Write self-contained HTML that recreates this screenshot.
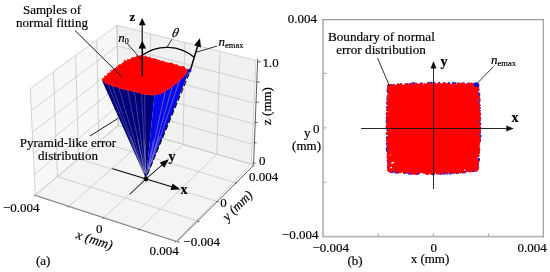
<!DOCTYPE html>
<html><head><meta charset="utf-8"><title>Figure</title>
<style>html,body{margin:0;padding:0;background:#fff}svg{display:block}</style>
</head><body>
<svg width="550" height="272" viewBox="0 0 550 272">
<rect width="550" height="272" fill="#fff"/>
<polygon points="35.34,195.02 176.36,241.07 251.27,164.19 118.24,125.52" fill="#f4f4f4" />
<polygon points="35.34,195.02 118.24,125.52 117.09,25.31 30.22,88.7" fill="#f8f8f8" />
<polygon points="118.24,125.52 251.27,164.19 256.02,60.52 117.09,25.31" fill="#f1f1f1" />
<g stroke="#c4c4c4" stroke-width="0.75" fill="none">
<path d="M35.34 195.02L118.24 125.52"/>
<path d="M35.34 195.02L176.36 241.07"/>
<path d="M35.34 195.02L30.22 88.7"/>
<path d="M118.24 125.52L117.09 25.31"/>
<path d="M69.22 206.08L150.31 134.84"/>
<path d="M57.42 176.51L196.38 220.53"/>
<path d="M57.42 176.51L53.42 71.77"/>
<path d="M150.31 134.84L150.53 33.78"/>
<path d="M103.99 217.44L183.15 144.39"/>
<path d="M78.56 158.79L215.49 200.91"/>
<path d="M78.56 158.79L75.59 55.59"/>
<path d="M183.15 144.39L184.81 42.47"/>
<path d="M139.69 229.1L216.8 154.17"/>
<path d="M98.81 141.81L233.78 182.15"/>
<path d="M98.81 141.81L96.79 40.12"/>
<path d="M216.8 154.17L219.96 51.38"/>
<path d="M176.36 241.07L251.27 164.19"/>
<path d="M118.24 125.52L251.27 164.19"/>
<path d="M118.24 125.52L117.09 25.31"/>
<path d="M251.27 164.19L256.02 60.52"/>
<path d="M35.34 195.02L118.24 125.52"/>
<path d="M118.24 125.52L251.27 164.19"/>
<path d="M34.35 174.52L118.02 106.14"/>
<path d="M118.02 106.14L252.19 144.17"/>
<path d="M33.35 153.64L117.79 86.44"/>
<path d="M117.79 86.44L253.12 123.81"/>
<path d="M32.32 132.39L117.56 66.4"/>
<path d="M117.56 66.4L254.07 103.08"/>
<path d="M31.28 110.75L117.33 46.03"/>
<path d="M117.33 46.03L255.04 81.99"/>
<path d="M30.22 88.7L117.09 25.31"/>
<path d="M117.09 25.31L256.02 60.52"/>
</g>
<line x1="35.34" y1="195.52" x2="176.36" y2="241.57" stroke="#666" stroke-width="0.85" />
<line x1="176.96" y1="241.47" x2="253.57" y2="165.39" stroke="#4a4a4a" stroke-width="0.9" />
<line x1="253.57" y1="164.39" x2="257.72" y2="58.52" stroke="#4a4a4a" stroke-width="0.9" />
<g stroke="#444" stroke-width="0.8">
<path d="M35.34 195.02l-1.6 1.3"/>
<path d="M177.16 241.67l2.4 0.6"/>
<path d="M69.22 206.08l-1.6 1.3"/>
<path d="M197.18 221.13l2.4 0.6"/>
<path d="M103.99 217.44l-1.6 1.3"/>
<path d="M216.29 201.51l2.4 0.6"/>
<path d="M139.69 229.1l-1.6 1.3"/>
<path d="M234.58 182.75l2.4 0.6"/>
<path d="M176.36 241.07l-1.6 1.3"/>
<path d="M252.07 164.79l2.4 0.6"/>
<path d="M252.47 162.8l3.2 0.3"/>
<path d="M253.51 142.56l3.2 0.3"/>
<path d="M254.56 122.32l3.2 0.3"/>
<path d="M255.63 102.08l3.2 0.3"/>
<path d="M256.72 81.84l3.2 0.3"/>
<path d="M257.82 61.6l3.2 0.3"/>
</g>
<polygon points="154.5,94.8 145,94.4 142.7,93.5 133.2,91.5 123.6,89 114.1,86.2 106.5,83.3 101.7,80.1 146,178.6" fill="#00007a" />
<polygon points="189.5,70.5 188,71.6 186,73.8 181.3,78.6 173.6,85.2 166,90.4 160.3,93.8 154.5,94.8 146,178.6" fill="#0808ee" />
<g stroke="#7e7eae" stroke-width="0.6" stroke-opacity="0.8">
<path d="M107.32 82.61L143.29 171.95"/>
<path d="M111.46 84.19L143.58 172.06"/>
<path d="M118.3 86.44L144.06 172.22"/>
<path d="M127.37 88.98L144.7 172.4"/>
<path d="M134.36 90.74L145.19 172.52"/>
<path d="M141.41 92.23L145.68 172.62"/>
<path d="M144.57 93.23L145.9 172.69"/>
</g>
<g stroke="#8484b8" stroke-width="0.7" stroke-opacity="0.95">
<path d="M180.18 78.56L148.39 171.67"/>
<path d="M172.87 84.7L147.88 172.1"/>
<path d="M165.69 89.59L147.38 172.44"/>
</g>
<g stroke="#c4c4de" stroke-width="0.5" stroke-opacity="0.7">
<path d="M130.46 136.57L144.27 173.93"/>
<path d="M137.62 138.72L145.07 174.17"/>
<path d="M143.93 140.18L145.77 174.33"/>
<path d="M159.16 135.94L147.46 173.86"/>
<path d="M153.52 139.79L146.84 174.29"/>
</g>
<line x1="189.2" y1="73.5" x2="146.9" y2="175.6" stroke="#000" stroke-width="1.1" stroke-dasharray="5.5 2.5"/>
<polygon points="102.49,79.98 107.69,75.01 114.67,69.16 123.99,62.62 133.42,57.65 140,56.48 145.01,57.07 154.34,59.41 163.77,62.09 173.09,64.48 182.52,67.3 187.24,69.55 188.71,70.62 187.24,71.69 185.27,73.84 180.66,78.52 173.09,84.95 165.63,90.02 160.03,93.34 154.34,94.31 145.01,93.92 142.75,93.05 133.42,91.09 123.99,88.66 114.67,85.93 107.2,83.1" fill="#ff0000" stroke="#ff0000" stroke-width="1" stroke-linejoin="round"/>
<g fill="#ff0000">
<circle cx="103.62" cy="78.64" r="0.73"/>
<circle cx="105.06" cy="76.52" r="0.9"/>
<circle cx="102.58" cy="79.02" r="0.74"/>
<circle cx="105.22" cy="77.19" r="0.79"/>
<circle cx="106.47" cy="77" r="0.86"/>
<circle cx="113.77" cy="69.94" r="0.82"/>
<circle cx="108.09" cy="73.82" r="1.03"/>
<circle cx="109.08" cy="74.2" r="0.85"/>
<circle cx="110.81" cy="71.01" r="0.78"/>
<circle cx="112.32" cy="70.69" r="0.93"/>
<circle cx="110.53" cy="72.89" r="0.98"/>
<circle cx="117.06" cy="67.61" r="1.05"/>
<circle cx="121.13" cy="65.26" r="0.75"/>
<circle cx="118.98" cy="65.8" r="0.9"/>
<circle cx="115.3" cy="69.38" r="0.93"/>
<circle cx="122.53" cy="63.79" r="0.94"/>
<circle cx="120" cy="65.98" r="1.08"/>
<circle cx="119.35" cy="65.27" r="0.98"/>
<circle cx="121.49" cy="65.51" r="0.81"/>
<circle cx="127.9" cy="59.85" r="0.88"/>
<circle cx="124.97" cy="61" r="1.01"/>
<circle cx="124.81" cy="61.79" r="1.05"/>
<circle cx="124.67" cy="62.31" r="1.05"/>
<circle cx="132.3" cy="58.15" r="0.87"/>
<circle cx="127.99" cy="61.66" r="0.76"/>
<circle cx="125.23" cy="61.27" r="0.89"/>
<circle cx="136.92" cy="56.07" r="0.87"/>
<circle cx="135.96" cy="58.04" r="0.98"/>
<circle cx="137" cy="57.37" r="0.72"/>
<circle cx="139.79" cy="57.27" r="1.02"/>
<circle cx="141.8" cy="56" r="0.95"/>
<circle cx="139.62" cy="55.99" r="0.76"/>
<circle cx="140.99" cy="55.78" r="0.76"/>
<circle cx="145.74" cy="56.45" r="1.05"/>
<circle cx="150.18" cy="58.06" r="0.84"/>
<circle cx="147.8" cy="58.55" r="1.1"/>
<circle cx="149.33" cy="57.41" r="0.74"/>
<circle cx="147.83" cy="58.46" r="0.76"/>
<circle cx="145.95" cy="57.17" r="0.76"/>
<circle cx="158.7" cy="60.91" r="1.09"/>
<circle cx="162.79" cy="61.29" r="0.85"/>
<circle cx="156.35" cy="59.91" r="1.01"/>
<circle cx="157" cy="60.85" r="1.09"/>
<circle cx="162.87" cy="62.27" r="1"/>
<circle cx="156.5" cy="59.76" r="0.71"/>
<circle cx="154.25" cy="59.05" r="0.98"/>
<circle cx="172.6" cy="65.16" r="1.1"/>
<circle cx="172.46" cy="63.87" r="0.79"/>
<circle cx="165.13" cy="62.78" r="1.06"/>
<circle cx="171.57" cy="64.37" r="1.02"/>
<circle cx="164.81" cy="63.03" r="1.01"/>
<circle cx="170.73" cy="63.3" r="1.02"/>
<circle cx="176.71" cy="66.27" r="0.86"/>
<circle cx="177.59" cy="66.02" r="0.77"/>
<circle cx="173.73" cy="65.57" r="1.02"/>
<circle cx="174.99" cy="65.76" r="0.96"/>
<circle cx="176.48" cy="64.8" r="0.71"/>
<circle cx="182.49" cy="67.27" r="1.07"/>
<circle cx="177.78" cy="66.29" r="0.78"/>
<circle cx="183.38" cy="67.4" r="0.93"/>
<circle cx="183.61" cy="67.22" r="1.06"/>
<circle cx="184.12" cy="68.25" r="1.06"/>
<circle cx="188.52" cy="70" r="0.91"/>
<circle cx="187.17" cy="71.07" r="0.77"/>
<circle cx="187.71" cy="71.11" r="0.89"/>
<circle cx="185.9" cy="72.93" r="0.91"/>
<circle cx="183.16" cy="75.73" r="0.92"/>
<circle cx="183.77" cy="75.49" r="0.9"/>
<circle cx="183.09" cy="77.21" r="0.88"/>
<circle cx="182.45" cy="76.73" r="0.98"/>
<circle cx="177.29" cy="81.39" r="1.08"/>
<circle cx="175.97" cy="83.81" r="0.8"/>
<circle cx="177.13" cy="82.73" r="0.75"/>
<circle cx="179.64" cy="78.53" r="0.8"/>
<circle cx="180.37" cy="79.5" r="1.06"/>
<circle cx="179.83" cy="79.8" r="0.76"/>
<circle cx="174.73" cy="83.69" r="1.08"/>
<circle cx="170.1" cy="87.85" r="1.03"/>
<circle cx="171.78" cy="85.8" r="0.84"/>
<circle cx="171.34" cy="86.34" r="0.71"/>
<circle cx="168.86" cy="86.89" r="0.83"/>
<circle cx="168.46" cy="87.33" r="1.09"/>
<circle cx="167.97" cy="88.24" r="0.81"/>
<circle cx="165.86" cy="89.74" r="0.75"/>
<circle cx="163.93" cy="92" r="0.8"/>
<circle cx="165.47" cy="90.64" r="0.98"/>
<circle cx="164.42" cy="90.66" r="0.87"/>
<circle cx="160.32" cy="93.65" r="1.02"/>
<circle cx="160.13" cy="92.64" r="1.05"/>
<circle cx="157.19" cy="93.88" r="1.07"/>
<circle cx="157.91" cy="93.65" r="0.8"/>
<circle cx="152.78" cy="93.46" r="0.78"/>
<circle cx="151.12" cy="94.66" r="0.82"/>
<circle cx="149.16" cy="93.84" r="0.71"/>
<circle cx="151.23" cy="94.63" r="0.92"/>
<circle cx="152.53" cy="95.02" r="0.74"/>
<circle cx="146.59" cy="93.98" r="1.03"/>
<circle cx="144.13" cy="93.92" r="1.09"/>
<circle cx="140.08" cy="92.75" r="0.95"/>
<circle cx="138.73" cy="91.45" r="0.75"/>
<circle cx="142.48" cy="92.47" r="0.77"/>
<circle cx="142.51" cy="93.55" r="0.97"/>
<circle cx="139.71" cy="92.12" r="0.88"/>
<circle cx="141.19" cy="92.31" r="1.08"/>
<circle cx="124.33" cy="88.26" r="1.09"/>
<circle cx="130.27" cy="89.44" r="0.85"/>
<circle cx="128.95" cy="89.4" r="0.9"/>
<circle cx="133" cy="90.34" r="0.86"/>
<circle cx="132.26" cy="90.64" r="0.79"/>
<circle cx="127.95" cy="90.12" r="0.96"/>
<circle cx="117.92" cy="86.5" r="0.83"/>
<circle cx="114.25" cy="86.37" r="0.96"/>
<circle cx="124.12" cy="89.24" r="0.95"/>
<circle cx="117.65" cy="86" r="0.91"/>
<circle cx="119.82" cy="87.83" r="1.03"/>
<circle cx="119.17" cy="87.39" r="0.98"/>
<circle cx="112.2" cy="84.62" r="0.84"/>
<circle cx="114.42" cy="85.74" r="0.95"/>
<circle cx="110.28" cy="84.14" r="0.7"/>
<circle cx="109.11" cy="83.68" r="0.91"/>
<circle cx="109.05" cy="84.49" r="0.8"/>
<circle cx="106.48" cy="83.28" r="0.78"/>
<circle cx="104.48" cy="80.78" r="0.85"/>
<circle cx="105.24" cy="82.09" r="0.95"/>
<circle cx="103.5" cy="80.46" r="0.8"/>
</g>
<line x1="142.3" y1="76.4" x2="142.3" y2="46" stroke="#000" stroke-width="1.5" />
<line x1="142.2" y1="50" x2="142.2" y2="24.3" stroke="#000" stroke-width="1.1" />
<polygon points="142.2,18.1 145.6,25.3 138.8,25.3" fill="#000" />
<polygon points="142.3,40.7 146.1,48.5 138.5,48.5" fill="#000" />
<line x1="190.5" y1="69.8" x2="197.84" y2="45.38" stroke="#000" stroke-width="1.5" />
<polygon points="200,38.2 201,47.38 194.11,45.3" fill="#000" />
<circle cx="189.4" cy="70.7" r="2" fill="#1010d0"/>
<path d="M142.2 55.3A42.2 42.2 0 0 1 194.1 57.3" fill="none" stroke="#000" stroke-width="1.2"/>
<line x1="75" y1="30.5" x2="121.5" y2="76.4" stroke="#000" stroke-width="0.9" />
<line x1="127.6" y1="43.8" x2="141.4" y2="59.8" stroke="#000" stroke-width="0.8" />
<line x1="171.8" y1="39.4" x2="167" y2="47.3" stroke="#000" stroke-width="0.8" />
<line x1="217" y1="46.1" x2="196.5" y2="52.1" stroke="#000" stroke-width="0.8" />
<line x1="90" y1="136" x2="118" y2="118.4" stroke="#000" stroke-width="0.9" />
<line x1="112.4" y1="168.6" x2="146" y2="178.9" stroke="#000" stroke-width="1.0" />
<line x1="146" y1="178.9" x2="172.55" y2="186.97" stroke="#000" stroke-width="1.0" />
<polygon points="180.2,189.3 170.6,189.93 172.58,183.43" fill="#000" />
<line x1="129.8" y1="194.3" x2="146" y2="178.9" stroke="#000" stroke-width="1.0" />
<line x1="146" y1="178.9" x2="162.73" y2="164.52" stroke="#000" stroke-width="1.0" />
<polygon points="168.8,159.3 164.19,167.75 159.76,162.59" fill="#000" />
<circle cx="145.9" cy="179" r="2.4" fill="#000"/>
<line x1="323.1" y1="19" x2="323.1" y2="237.6" stroke="#b8b8b8" stroke-width="1.9" />
<line x1="322.15" y1="236.7" x2="543.9" y2="236.7" stroke="#b8b8b8" stroke-width="1.8" />
<line x1="322.15" y1="19.6" x2="543.9" y2="19.6" stroke="#9c9c9c" stroke-width="1.2" />
<line x1="543.3" y1="19" x2="543.3" y2="237.6" stroke="#9c9c9c" stroke-width="1.2" />
<g stroke="#888" stroke-width="0.8">
<path d="M378.09 235.9v-2.4"/>
<path d="M324 73.49h2.4"/>
<path d="M433.33 235.9v-2.4"/>
<path d="M324 127.92h2.4"/>
<path d="M488.56 235.9v-2.4"/>
<path d="M324 182.36h2.4"/>
</g>
<g fill="#2626d6">
<circle cx="454.96" cy="83.34" r="1.15"/>
<circle cx="439.17" cy="82.78" r="1.15"/>
<circle cx="393.59" cy="84.81" r="1.15"/>
<circle cx="448.37" cy="83.69" r="1.15"/>
<circle cx="448.87" cy="83.21" r="1.15"/>
<circle cx="434.49" cy="83.39" r="1.15"/>
<circle cx="429.95" cy="83" r="1.15"/>
<circle cx="468.64" cy="83.67" r="1.15"/>
<circle cx="475.61" cy="84.73" r="1.15"/>
<circle cx="389.93" cy="85.27" r="1.15"/>
<circle cx="461.42" cy="84.25" r="1.15"/>
<circle cx="428.44" cy="83.22" r="1.15"/>
<circle cx="407.35" cy="84.74" r="1.15"/>
<circle cx="407.19" cy="84.33" r="1.15"/>
<circle cx="401.02" cy="84.6" r="1.15"/>
<circle cx="474.04" cy="83.86" r="1.15"/>
<circle cx="461.78" cy="83.75" r="1.15"/>
<circle cx="467.62" cy="84.16" r="1.15"/>
<circle cx="409.23" cy="84.61" r="1.15"/>
<circle cx="431.74" cy="82.85" r="1.15"/>
<circle cx="388.73" cy="85.4" r="1.15"/>
<circle cx="428.56" cy="83.26" r="1.15"/>
<circle cx="400.79" cy="84.42" r="1.15"/>
<circle cx="416.69" cy="84.25" r="1.15"/>
<circle cx="388.81" cy="85.64" r="1.15"/>
<circle cx="463.76" cy="83.39" r="1.15"/>
<circle cx="471.16" cy="84.31" r="1.15"/>
<circle cx="469.28" cy="83.8" r="1.15"/>
<circle cx="421.52" cy="83.54" r="1.15"/>
<circle cx="477.79" cy="84.5" r="1.15"/>
<circle cx="420.5" cy="83.62" r="1.15"/>
<circle cx="412.64" cy="83.45" r="1.15"/>
<circle cx="397.72" cy="85.13" r="1.15"/>
<circle cx="414.04" cy="84.46" r="1.15"/>
<circle cx="410.44" cy="83.81" r="1.15"/>
<circle cx="433.99" cy="83.04" r="1.15"/>
<circle cx="421.8" cy="84.25" r="1.15"/>
<circle cx="467.3" cy="84.27" r="1.15"/>
<circle cx="444.62" cy="83.94" r="1.15"/>
<circle cx="472.59" cy="84.21" r="1.15"/>
<circle cx="452.96" cy="82.99" r="1.15"/>
<circle cx="453.9" cy="83.49" r="1.15"/>
<circle cx="455.62" cy="83.75" r="1.15"/>
<circle cx="413.63" cy="83.4" r="1.15"/>
<circle cx="471.7" cy="83.74" r="1.15"/>
<circle cx="430.49" cy="83.28" r="1.15"/>
<circle cx="479.31" cy="110.64" r="1.15"/>
<circle cx="477.92" cy="168.42" r="1.15"/>
<circle cx="479.81" cy="141.39" r="1.15"/>
<circle cx="479.93" cy="132.93" r="1.15"/>
<circle cx="479.44" cy="98.91" r="1.15"/>
<circle cx="478.8" cy="102.95" r="1.15"/>
<circle cx="480.22" cy="127.75" r="1.15"/>
<circle cx="477.73" cy="161.99" r="1.15"/>
<circle cx="480.32" cy="123.65" r="1.15"/>
<circle cx="479.66" cy="101.08" r="1.15"/>
<circle cx="480.22" cy="114.21" r="1.15"/>
<circle cx="479.68" cy="105.28" r="1.15"/>
<circle cx="479.27" cy="133.9" r="1.15"/>
<circle cx="479.29" cy="149.3" r="1.15"/>
<circle cx="479.8" cy="120.59" r="1.15"/>
<circle cx="479.99" cy="117.34" r="1.15"/>
<circle cx="478.66" cy="89.72" r="1.15"/>
<circle cx="478.12" cy="167.82" r="1.15"/>
<circle cx="479.68" cy="128.29" r="1.15"/>
<circle cx="478.85" cy="158.97" r="1.15"/>
<circle cx="479.82" cy="108.07" r="1.15"/>
<circle cx="479.88" cy="119.35" r="1.15"/>
<circle cx="477.53" cy="166.06" r="1.15"/>
<circle cx="478.99" cy="159.95" r="1.15"/>
<circle cx="478.02" cy="87.46" r="1.15"/>
<circle cx="478.35" cy="161.52" r="1.15"/>
<circle cx="480.38" cy="135.57" r="1.15"/>
<circle cx="479.26" cy="118.76" r="1.15"/>
<circle cx="478.39" cy="155.4" r="1.15"/>
<circle cx="477.97" cy="168.09" r="1.15"/>
<circle cx="479.1" cy="93.77" r="1.15"/>
<circle cx="479.6" cy="129.91" r="1.15"/>
<circle cx="477.75" cy="165.13" r="1.15"/>
<circle cx="479.26" cy="140.5" r="1.15"/>
<circle cx="479.79" cy="124.34" r="1.15"/>
<circle cx="478" cy="88.16" r="1.15"/>
<circle cx="478.88" cy="105.09" r="1.15"/>
<circle cx="479.84" cy="140.5" r="1.15"/>
<circle cx="479.12" cy="95.51" r="1.15"/>
<circle cx="479.37" cy="139.59" r="1.15"/>
<circle cx="479.21" cy="93.98" r="1.15"/>
<circle cx="479.72" cy="130.09" r="1.15"/>
<circle cx="480.15" cy="118.28" r="1.15"/>
<circle cx="480.34" cy="136.76" r="1.15"/>
<circle cx="479.66" cy="110.84" r="1.15"/>
<circle cx="477.69" cy="166.64" r="1.15"/>
<circle cx="398.89" cy="172.34" r="1.15"/>
<circle cx="456.76" cy="172.9" r="1.15"/>
<circle cx="392.29" cy="171.4" r="1.15"/>
<circle cx="450.36" cy="173.68" r="1.15"/>
<circle cx="433.15" cy="173.52" r="1.15"/>
<circle cx="440.17" cy="173.9" r="1.15"/>
<circle cx="418.29" cy="173.04" r="1.15"/>
<circle cx="457.6" cy="173.08" r="1.15"/>
<circle cx="447.44" cy="173.36" r="1.15"/>
<circle cx="416.63" cy="173.89" r="1.15"/>
<circle cx="406.76" cy="172.69" r="1.15"/>
<circle cx="432.56" cy="174.14" r="1.15"/>
<circle cx="391.12" cy="171.68" r="1.15"/>
<circle cx="404.38" cy="173.1" r="1.15"/>
<circle cx="457.62" cy="172.21" r="1.15"/>
<circle cx="451.03" cy="172.48" r="1.15"/>
<circle cx="433.38" cy="174.15" r="1.15"/>
<circle cx="457.67" cy="172.62" r="1.15"/>
<circle cx="418.48" cy="173.02" r="1.15"/>
<circle cx="464.55" cy="171.96" r="1.15"/>
<circle cx="458.24" cy="171.91" r="1.15"/>
<circle cx="465.21" cy="172.28" r="1.15"/>
<circle cx="472.23" cy="171.03" r="1.15"/>
<circle cx="397.95" cy="171.8" r="1.15"/>
<circle cx="412.58" cy="172.72" r="1.15"/>
<circle cx="394.53" cy="172.05" r="1.15"/>
<circle cx="460.68" cy="171.73" r="1.15"/>
<circle cx="410.84" cy="173.79" r="1.15"/>
<circle cx="418.33" cy="173.73" r="1.15"/>
<circle cx="444.28" cy="173.64" r="1.15"/>
<circle cx="462.79" cy="172.6" r="1.15"/>
<circle cx="452.67" cy="173.1" r="1.15"/>
<circle cx="392.23" cy="172.01" r="1.15"/>
<circle cx="391.52" cy="171.84" r="1.15"/>
<circle cx="445.65" cy="172.95" r="1.15"/>
<circle cx="404.34" cy="172.86" r="1.15"/>
<circle cx="473.13" cy="170.82" r="1.15"/>
<circle cx="444.2" cy="172.89" r="1.15"/>
<circle cx="460.41" cy="172.43" r="1.15"/>
<circle cx="397.36" cy="172.68" r="1.15"/>
<circle cx="440.87" cy="173.16" r="1.15"/>
<circle cx="409.02" cy="173.66" r="1.15"/>
<circle cx="474.78" cy="171.03" r="1.15"/>
<circle cx="395.49" cy="172.23" r="1.15"/>
<circle cx="411.24" cy="172.77" r="1.15"/>
<circle cx="447.41" cy="173.55" r="1.15"/>
<circle cx="388.29" cy="89.1" r="1.15"/>
<circle cx="387.62" cy="148.37" r="1.15"/>
<circle cx="386.93" cy="143.89" r="1.15"/>
<circle cx="388.84" cy="170.62" r="1.15"/>
<circle cx="388.1" cy="92.6" r="1.15"/>
<circle cx="387.63" cy="89.82" r="1.15"/>
<circle cx="387.43" cy="150.94" r="1.15"/>
<circle cx="388.62" cy="89.46" r="1.15"/>
<circle cx="386.74" cy="137.83" r="1.15"/>
<circle cx="386.99" cy="134.02" r="1.15"/>
<circle cx="387.7" cy="91.24" r="1.15"/>
<circle cx="387.74" cy="102.3" r="1.15"/>
<circle cx="387.85" cy="100.62" r="1.15"/>
<circle cx="386.78" cy="118.76" r="1.15"/>
<circle cx="387.02" cy="143.59" r="1.15"/>
<circle cx="386.92" cy="103.62" r="1.15"/>
<circle cx="387.88" cy="153.92" r="1.15"/>
<circle cx="386.9" cy="150.01" r="1.15"/>
<circle cx="388.46" cy="168.19" r="1.15"/>
<circle cx="387.77" cy="142.8" r="1.15"/>
<circle cx="388.32" cy="95.65" r="1.15"/>
<circle cx="386.86" cy="148.47" r="1.15"/>
<circle cx="388.06" cy="162.82" r="1.15"/>
<circle cx="387.13" cy="110.02" r="1.15"/>
<circle cx="387.36" cy="150.95" r="1.15"/>
<circle cx="387.24" cy="117.74" r="1.15"/>
<circle cx="387.7" cy="106.98" r="1.15"/>
<circle cx="386.62" cy="113.77" r="1.15"/>
<circle cx="387.39" cy="98.75" r="1.15"/>
<circle cx="386.8" cy="122.24" r="1.15"/>
<circle cx="386.91" cy="107.48" r="1.15"/>
<circle cx="387.11" cy="149.9" r="1.15"/>
<circle cx="388.2" cy="157.61" r="1.15"/>
<circle cx="386.75" cy="121.25" r="1.15"/>
<circle cx="387.67" cy="136.81" r="1.15"/>
<circle cx="386.6" cy="127.37" r="1.15"/>
<circle cx="387.67" cy="101.75" r="1.15"/>
<circle cx="387.99" cy="85.84" r="1.15"/>
<circle cx="387.37" cy="130.15" r="1.15"/>
<circle cx="388.07" cy="99.21" r="1.15"/>
<circle cx="388.17" cy="167.85" r="1.15"/>
<circle cx="387.62" cy="161.08" r="1.15"/>
<circle cx="388.34" cy="87.78" r="1.15"/>
<circle cx="387.9" cy="91.22" r="1.15"/>
<circle cx="387.67" cy="96.71" r="1.15"/>
<circle cx="387.69" cy="148.52" r="1.15"/>
</g>
<path d="M389.76 86.71Q432.81 83.7 476.65 85.71Q480.25 128.68 476.14 168.9Q432.95 175.1 389.95 169.88Q387.1 127.71 389.76 86.71Z" fill="#ff0000" stroke="#ff0000" stroke-width="1.5" stroke-linejoin="round"/>
<g fill="#ff0000">
<circle cx="473.07" cy="84.19" r="1.17"/>
<circle cx="443.7" cy="83.7" r="1.07"/>
<circle cx="401.12" cy="84.79" r="1.01"/>
<circle cx="441.65" cy="84.76" r="0.99"/>
<circle cx="389.83" cy="85.75" r="1.21"/>
<circle cx="405.15" cy="84.81" r="0.99"/>
<circle cx="458.96" cy="84.64" r="0.93"/>
<circle cx="397.88" cy="85.37" r="1.15"/>
<circle cx="445.5" cy="83.41" r="0.97"/>
<circle cx="450.27" cy="84.21" r="1.03"/>
<circle cx="416.55" cy="85.85" r="1.04"/>
<circle cx="438.88" cy="84.05" r="1.09"/>
<circle cx="464.41" cy="85.68" r="1.06"/>
<circle cx="406.76" cy="85.64" r="0.99"/>
<circle cx="390.38" cy="86.78" r="1.09"/>
<circle cx="461.38" cy="84.39" r="1.3"/>
<circle cx="429.51" cy="83.65" r="0.91"/>
<circle cx="437.49" cy="84.76" r="1.31"/>
<circle cx="397.16" cy="85.86" r="1.07"/>
<circle cx="433.4" cy="83.56" r="1.03"/>
<circle cx="434.81" cy="85.49" r="0.95"/>
<circle cx="432.18" cy="85.22" r="1.34"/>
<circle cx="405.98" cy="84.36" r="1.32"/>
<circle cx="475.11" cy="85" r="0.92"/>
<circle cx="470.85" cy="84.64" r="1.31"/>
<circle cx="443.38" cy="85.18" r="0.97"/>
<circle cx="458.53" cy="83.92" r="1.08"/>
<circle cx="463.08" cy="85.31" r="0.98"/>
<circle cx="408.17" cy="84.86" r="1.13"/>
<circle cx="422.58" cy="83.71" r="1.01"/>
<circle cx="452.38" cy="85.35" r="0.92"/>
<circle cx="438.39" cy="85.04" r="0.92"/>
<circle cx="463.38" cy="83.83" r="1.17"/>
<circle cx="437.36" cy="84.73" r="1.04"/>
<circle cx="426.03" cy="84.76" r="1.09"/>
<circle cx="447" cy="84.27" r="1.1"/>
<circle cx="391.41" cy="86.19" r="1.12"/>
<circle cx="410.11" cy="85.6" r="1.25"/>
<circle cx="429.28" cy="83.7" r="1.11"/>
<circle cx="397.96" cy="84.82" r="1.09"/>
<circle cx="397.1" cy="85.5" r="1.13"/>
<circle cx="392.96" cy="86.13" r="0.94"/>
<circle cx="453.25" cy="85.08" r="1.13"/>
<circle cx="393.92" cy="85.82" r="1.07"/>
<circle cx="473.49" cy="84.27" r="1.29"/>
<circle cx="476.5" cy="85.51" r="1.27"/>
<circle cx="406.79" cy="86.19" r="1.12"/>
<circle cx="472.67" cy="85.72" r="0.97"/>
<circle cx="457.87" cy="85.45" r="0.93"/>
<circle cx="420.12" cy="85.3" r="0.97"/>
<circle cx="468.38" cy="84.33" r="1.27"/>
<circle cx="401.75" cy="85.38" r="1.31"/>
<circle cx="407.13" cy="84.6" r="1.13"/>
<circle cx="416.75" cy="83.68" r="0.98"/>
<circle cx="403.92" cy="86.19" r="1.21"/>
<circle cx="468.45" cy="84.12" r="1.25"/>
<circle cx="399.3" cy="85.56" r="1.19"/>
<circle cx="420.97" cy="85.57" r="1.15"/>
<circle cx="439.87" cy="85.34" r="0.95"/>
<circle cx="476.4" cy="85.32" r="1.08"/>
<circle cx="459.54" cy="84.04" r="1.35"/>
<circle cx="439.84" cy="84.05" r="1.24"/>
<circle cx="427.85" cy="83.72" r="1.23"/>
<circle cx="393.93" cy="86.42" r="1.01"/>
<circle cx="444.91" cy="85.56" r="1.16"/>
<circle cx="447.54" cy="83.95" r="0.9"/>
<circle cx="391.5" cy="85.29" r="1.18"/>
<circle cx="427.06" cy="84.57" r="1.3"/>
<circle cx="400.33" cy="84.88" r="1.19"/>
<circle cx="390.22" cy="85.11" r="1.06"/>
<circle cx="398.26" cy="85.27" r="1"/>
<circle cx="440.3" cy="84.61" r="0.99"/>
<circle cx="443.9" cy="84.33" r="0.96"/>
<circle cx="472.02" cy="84.41" r="0.97"/>
<circle cx="397.78" cy="85.86" r="1.29"/>
<circle cx="457.98" cy="84.3" r="1.02"/>
<circle cx="390.41" cy="86.3" r="1.15"/>
<circle cx="419.99" cy="85.04" r="1.1"/>
<circle cx="471.26" cy="85.33" r="1.01"/>
<circle cx="469.37" cy="83.91" r="1.14"/>
<circle cx="424.64" cy="83.94" r="0.93"/>
<circle cx="458.17" cy="83.45" r="1.15"/>
<circle cx="472.58" cy="84.24" r="0.99"/>
<circle cx="442.49" cy="84.41" r="1.19"/>
<circle cx="461.07" cy="83.88" r="1.04"/>
<circle cx="415.07" cy="83.77" r="1.3"/>
<circle cx="457.66" cy="84.98" r="0.9"/>
<circle cx="463.04" cy="85.14" r="1.11"/>
<circle cx="454.33" cy="84.35" r="1"/>
<circle cx="397.97" cy="85.03" r="0.92"/>
<circle cx="418.78" cy="85.32" r="1.21"/>
<circle cx="463.16" cy="85.07" r="1.02"/>
<circle cx="437.74" cy="84.25" r="1.25"/>
<circle cx="435.07" cy="83.84" r="1.19"/>
<circle cx="474.63" cy="84.48" r="1.3"/>
<circle cx="390.05" cy="85.61" r="1.01"/>
<circle cx="453.98" cy="85.46" r="1.24"/>
<circle cx="418.14" cy="85.65" r="1.05"/>
<circle cx="410.62" cy="85.9" r="1.18"/>
<circle cx="449.81" cy="84.8" r="1.34"/>
<circle cx="430.38" cy="85.33" r="1.21"/>
<circle cx="464.64" cy="84.54" r="1.23"/>
<circle cx="439.24" cy="83.92" r="1"/>
<circle cx="444.02" cy="83.36" r="1.31"/>
<circle cx="401.14" cy="84.41" r="0.95"/>
<circle cx="471.17" cy="84.57" r="0.96"/>
<circle cx="390.86" cy="85.13" r="1.21"/>
<circle cx="444.63" cy="84.87" r="1.23"/>
<circle cx="395.07" cy="85.92" r="1.06"/>
<circle cx="460.57" cy="85.25" r="1.3"/>
<circle cx="395.55" cy="86.43" r="1.31"/>
<circle cx="472.95" cy="84.19" r="0.99"/>
<circle cx="398.25" cy="84.61" r="1.28"/>
<circle cx="460.33" cy="84.85" r="1.27"/>
<circle cx="444.69" cy="83.88" r="0.94"/>
<circle cx="398.15" cy="86.08" r="0.99"/>
<circle cx="417.09" cy="84.59" r="0.91"/>
<circle cx="411.44" cy="84.46" r="1.22"/>
<circle cx="421.32" cy="84.22" r="1.33"/>
<circle cx="433.32" cy="85.32" r="1.18"/>
<circle cx="477.64" cy="87.69" r="1.1"/>
<circle cx="478.52" cy="150.94" r="1.22"/>
<circle cx="479.53" cy="131.23" r="1.29"/>
<circle cx="477.21" cy="93.55" r="0.98"/>
<circle cx="477.81" cy="84.72" r="1.24"/>
<circle cx="477.85" cy="168.5" r="1.12"/>
<circle cx="478.11" cy="127.3" r="0.98"/>
<circle cx="479.23" cy="127.54" r="1.27"/>
<circle cx="477.55" cy="108.15" r="1.03"/>
<circle cx="477.97" cy="104" r="1.12"/>
<circle cx="477.67" cy="94.91" r="0.94"/>
<circle cx="477.68" cy="151.77" r="1.25"/>
<circle cx="479.02" cy="138.79" r="1.08"/>
<circle cx="477.87" cy="119.3" r="0.94"/>
<circle cx="478.52" cy="161.01" r="0.99"/>
<circle cx="477.65" cy="108.33" r="1.13"/>
<circle cx="477.87" cy="118.02" r="1.01"/>
<circle cx="478.78" cy="124.72" r="1.24"/>
<circle cx="477.94" cy="148.95" r="1.06"/>
<circle cx="479.55" cy="113.08" r="1.28"/>
<circle cx="478" cy="141.38" r="0.98"/>
<circle cx="478.18" cy="122.92" r="1.16"/>
<circle cx="478.11" cy="96.05" r="1.3"/>
<circle cx="479.19" cy="105.42" r="1.04"/>
<circle cx="477.65" cy="144.67" r="0.97"/>
<circle cx="478.7" cy="98.35" r="1.05"/>
<circle cx="479.68" cy="129.9" r="1.05"/>
<circle cx="477.29" cy="102.17" r="1.23"/>
<circle cx="476.98" cy="94.7" r="0.95"/>
<circle cx="477.63" cy="118.48" r="1.26"/>
<circle cx="478.5" cy="147.54" r="0.99"/>
<circle cx="479.6" cy="139.79" r="0.99"/>
<circle cx="479.96" cy="118.35" r="1.08"/>
<circle cx="477.67" cy="152.03" r="1.13"/>
<circle cx="478.75" cy="139.1" r="0.96"/>
<circle cx="478.96" cy="136.73" r="1.23"/>
<circle cx="477.57" cy="162.03" r="1.16"/>
<circle cx="478.46" cy="148.87" r="1"/>
<circle cx="477.51" cy="146.2" r="1.25"/>
<circle cx="477.64" cy="144.41" r="1.21"/>
<circle cx="478.75" cy="139.87" r="1.04"/>
<circle cx="479.65" cy="138.97" r="1.09"/>
<circle cx="477.67" cy="151.3" r="1.18"/>
<circle cx="478.71" cy="106.72" r="1.1"/>
<circle cx="478.91" cy="138.23" r="1.2"/>
<circle cx="477.9" cy="164.25" r="1.19"/>
<circle cx="478.41" cy="151.32" r="1.12"/>
<circle cx="477.82" cy="168.17" r="1.14"/>
<circle cx="477.6" cy="99.5" r="1.32"/>
<circle cx="479.83" cy="129.65" r="1.16"/>
<circle cx="478.28" cy="131.4" r="1.13"/>
<circle cx="477.85" cy="139.45" r="1.13"/>
<circle cx="477.73" cy="120.63" r="0.99"/>
<circle cx="478.77" cy="143.49" r="1.24"/>
<circle cx="477.02" cy="96.49" r="1.06"/>
<circle cx="478.07" cy="89.71" r="1.08"/>
<circle cx="477.5" cy="86.15" r="1.09"/>
<circle cx="478.82" cy="144.69" r="1.02"/>
<circle cx="477.91" cy="104.87" r="1.32"/>
<circle cx="479.53" cy="130.31" r="1.26"/>
<circle cx="479.53" cy="118.75" r="0.96"/>
<circle cx="477.48" cy="150.71" r="1.19"/>
<circle cx="478.7" cy="125.41" r="1"/>
<circle cx="477.32" cy="166.76" r="1.19"/>
<circle cx="477.28" cy="154.15" r="1.11"/>
<circle cx="478.54" cy="110.63" r="0.96"/>
<circle cx="478.19" cy="155.99" r="1.28"/>
<circle cx="478.87" cy="108.16" r="1.01"/>
<circle cx="479.63" cy="121.67" r="0.9"/>
<circle cx="478.9" cy="146.73" r="1.01"/>
<circle cx="478.72" cy="111.21" r="1.09"/>
<circle cx="478.26" cy="139.39" r="1.06"/>
<circle cx="476.6" cy="163.07" r="0.93"/>
<circle cx="477.05" cy="154.78" r="1.25"/>
<circle cx="477.41" cy="97.82" r="1.18"/>
<circle cx="478.26" cy="85.6" r="1.33"/>
<circle cx="479.2" cy="141.22" r="0.95"/>
<circle cx="478.66" cy="97.18" r="1.25"/>
<circle cx="479.6" cy="114.79" r="1.31"/>
<circle cx="478.83" cy="152.71" r="1.3"/>
<circle cx="478.02" cy="136.94" r="1.2"/>
<circle cx="476.95" cy="160.33" r="1.28"/>
<circle cx="477.93" cy="102.51" r="1.14"/>
<circle cx="478.45" cy="148.25" r="1.3"/>
<circle cx="479.39" cy="132.68" r="1.01"/>
<circle cx="478.11" cy="97.25" r="0.93"/>
<circle cx="479.75" cy="125.18" r="1.12"/>
<circle cx="478.75" cy="127.85" r="1.29"/>
<circle cx="476.69" cy="86.29" r="1.11"/>
<circle cx="478.38" cy="133.2" r="1.28"/>
<circle cx="479" cy="117.4" r="1.33"/>
<circle cx="477.49" cy="91.92" r="1.19"/>
<circle cx="477.25" cy="87.8" r="1.21"/>
<circle cx="477.6" cy="164.12" r="1.34"/>
<circle cx="478.88" cy="128.89" r="1.3"/>
<circle cx="477.09" cy="88.45" r="1.18"/>
<circle cx="477.88" cy="114.62" r="1.06"/>
<circle cx="478.79" cy="125.86" r="1.25"/>
<circle cx="478.54" cy="103.34" r="1.09"/>
<circle cx="477.99" cy="132.45" r="1.03"/>
<circle cx="478.12" cy="155.42" r="1.13"/>
<circle cx="478.58" cy="108.66" r="1.34"/>
<circle cx="477.9" cy="140.73" r="1.05"/>
<circle cx="479.18" cy="112.37" r="1.16"/>
<circle cx="477.97" cy="139.11" r="0.92"/>
<circle cx="477.5" cy="146.23" r="1.15"/>
<circle cx="477.97" cy="89.14" r="0.9"/>
<circle cx="477.41" cy="102.16" r="1.17"/>
<circle cx="477.9" cy="141.01" r="1.31"/>
<circle cx="478.42" cy="137.3" r="1.18"/>
<circle cx="478.25" cy="144.33" r="1.21"/>
<circle cx="478.04" cy="103.77" r="1.11"/>
<circle cx="479.12" cy="150.35" r="0.98"/>
<circle cx="477" cy="88.81" r="1.31"/>
<circle cx="478.92" cy="141.11" r="1.27"/>
<circle cx="477.98" cy="151.82" r="1.02"/>
<circle cx="478.86" cy="111.18" r="1.04"/>
<circle cx="478.5" cy="122.21" r="1.32"/>
<circle cx="477.5" cy="90.01" r="0.92"/>
<circle cx="477.36" cy="95.94" r="1.16"/>
<circle cx="396.38" cy="171.34" r="0.91"/>
<circle cx="442.78" cy="172.28" r="1.32"/>
<circle cx="390.98" cy="170.72" r="1.09"/>
<circle cx="467.55" cy="170.34" r="1"/>
<circle cx="464.11" cy="172.07" r="0.9"/>
<circle cx="416.68" cy="173.46" r="1.33"/>
<circle cx="468.4" cy="169.78" r="0.96"/>
<circle cx="474.8" cy="169.31" r="1.01"/>
<circle cx="412.33" cy="173.11" r="0.92"/>
<circle cx="409.37" cy="171.74" r="1.28"/>
<circle cx="412.56" cy="173.36" r="1.18"/>
<circle cx="414.74" cy="172.58" r="1.32"/>
<circle cx="453.94" cy="170.81" r="1.22"/>
<circle cx="476.62" cy="170.47" r="1.19"/>
<circle cx="404.78" cy="172.86" r="1.04"/>
<circle cx="412.67" cy="173.18" r="1.29"/>
<circle cx="434.22" cy="173.83" r="1.07"/>
<circle cx="426.45" cy="172.92" r="1.2"/>
<circle cx="463.58" cy="170.42" r="1.06"/>
<circle cx="420.47" cy="172.36" r="1.09"/>
<circle cx="442.79" cy="171.8" r="1.33"/>
<circle cx="408.28" cy="172.01" r="1.03"/>
<circle cx="470.62" cy="169.31" r="1.22"/>
<circle cx="404.23" cy="172.26" r="1.17"/>
<circle cx="391.89" cy="170.11" r="1.17"/>
<circle cx="449.74" cy="172.33" r="1.3"/>
<circle cx="443.63" cy="172.02" r="1.17"/>
<circle cx="398.92" cy="170.82" r="1.03"/>
<circle cx="477.04" cy="169.91" r="1.09"/>
<circle cx="425.59" cy="171.98" r="1.3"/>
<circle cx="472.46" cy="169.38" r="1.27"/>
<circle cx="401.08" cy="171.5" r="1.02"/>
<circle cx="402.82" cy="171.13" r="1.21"/>
<circle cx="396.65" cy="171.58" r="0.94"/>
<circle cx="428.41" cy="172.03" r="0.99"/>
<circle cx="411.68" cy="171.36" r="1.01"/>
<circle cx="423.78" cy="172.3" r="1.11"/>
<circle cx="458.91" cy="172.06" r="1.24"/>
<circle cx="407.53" cy="172.21" r="0.94"/>
<circle cx="406.63" cy="171.46" r="1"/>
<circle cx="426.22" cy="171.78" r="1.3"/>
<circle cx="431.09" cy="172.83" r="1.17"/>
<circle cx="460.54" cy="172.05" r="0.98"/>
<circle cx="415.36" cy="172.84" r="1.15"/>
<circle cx="441.48" cy="172.51" r="0.97"/>
<circle cx="471.97" cy="169.11" r="1.07"/>
<circle cx="467.21" cy="170.4" r="1.25"/>
<circle cx="462.89" cy="170.92" r="1.06"/>
<circle cx="431.26" cy="173.96" r="0.92"/>
<circle cx="390.83" cy="169.93" r="1.12"/>
<circle cx="427.08" cy="173.36" r="1.25"/>
<circle cx="439.29" cy="171.51" r="1.25"/>
<circle cx="405.82" cy="170.99" r="1.01"/>
<circle cx="473.94" cy="170.47" r="0.98"/>
<circle cx="470.12" cy="171.29" r="1.15"/>
<circle cx="400.61" cy="171.7" r="1.33"/>
<circle cx="396.54" cy="172.16" r="1.17"/>
<circle cx="442.12" cy="173.47" r="1.33"/>
<circle cx="454.1" cy="171.73" r="1.19"/>
<circle cx="393.45" cy="170.6" r="1.08"/>
<circle cx="437.58" cy="173.52" r="1.33"/>
<circle cx="389.57" cy="171.05" r="0.92"/>
<circle cx="454.45" cy="172.2" r="1.31"/>
<circle cx="398.23" cy="170.71" r="0.92"/>
<circle cx="408.3" cy="171.69" r="1.19"/>
<circle cx="389.83" cy="171.41" r="0.97"/>
<circle cx="411.28" cy="171.32" r="1.2"/>
<circle cx="450.45" cy="171.9" r="1.24"/>
<circle cx="467.76" cy="171" r="1.02"/>
<circle cx="465.86" cy="170.87" r="0.98"/>
<circle cx="456.23" cy="172.54" r="1.2"/>
<circle cx="475.26" cy="169.26" r="0.99"/>
<circle cx="472.84" cy="169.15" r="1"/>
<circle cx="395.73" cy="170.42" r="1.3"/>
<circle cx="464.54" cy="171.08" r="0.94"/>
<circle cx="396.14" cy="170.51" r="1.18"/>
<circle cx="437.19" cy="173.08" r="1.27"/>
<circle cx="434.94" cy="172.4" r="0.96"/>
<circle cx="457.82" cy="172.6" r="1.22"/>
<circle cx="428.26" cy="173.66" r="1.29"/>
<circle cx="453.46" cy="172.13" r="0.97"/>
<circle cx="452.61" cy="171.19" r="1.05"/>
<circle cx="462.02" cy="171.24" r="1.04"/>
<circle cx="397.22" cy="172.12" r="1.34"/>
<circle cx="471.08" cy="169.42" r="1.2"/>
<circle cx="458.23" cy="171.61" r="1.03"/>
<circle cx="454.45" cy="172.55" r="1.06"/>
<circle cx="391.01" cy="169.69" r="1.32"/>
<circle cx="468.51" cy="170.98" r="1.3"/>
<circle cx="471.31" cy="169.74" r="1.03"/>
<circle cx="390.37" cy="171.56" r="1.26"/>
<circle cx="447.13" cy="173.18" r="0.9"/>
<circle cx="404.07" cy="171.83" r="0.98"/>
<circle cx="438.51" cy="171.62" r="1"/>
<circle cx="426.67" cy="173.66" r="0.98"/>
<circle cx="409.68" cy="171.76" r="0.99"/>
<circle cx="470.45" cy="171.17" r="1.17"/>
<circle cx="433.4" cy="173.31" r="0.99"/>
<circle cx="423.32" cy="172.22" r="1.27"/>
<circle cx="425.66" cy="173.49" r="0.93"/>
<circle cx="412.63" cy="172.61" r="1.22"/>
<circle cx="471.35" cy="169.56" r="1.05"/>
<circle cx="403.7" cy="171.07" r="1.12"/>
<circle cx="474.66" cy="168.95" r="1.11"/>
<circle cx="400.2" cy="172.08" r="0.98"/>
<circle cx="403.9" cy="172.16" r="0.97"/>
<circle cx="444.16" cy="172.21" r="0.9"/>
<circle cx="431.27" cy="172.9" r="1.13"/>
<circle cx="465.8" cy="170.38" r="1.27"/>
<circle cx="400.86" cy="172.02" r="1.22"/>
<circle cx="443.19" cy="171.87" r="0.93"/>
<circle cx="401.16" cy="170.69" r="1.12"/>
<circle cx="431.84" cy="172.69" r="1.14"/>
<circle cx="474.11" cy="168.91" r="1"/>
<circle cx="461.26" cy="172.18" r="1.01"/>
<circle cx="404.73" cy="172.97" r="0.94"/>
<circle cx="415.39" cy="173.24" r="0.91"/>
<circle cx="424.38" cy="172.56" r="1.14"/>
<circle cx="414.98" cy="173.44" r="1.29"/>
<circle cx="413.64" cy="173.51" r="0.96"/>
<circle cx="387.95" cy="128.54" r="1.03"/>
<circle cx="388.55" cy="160.15" r="0.96"/>
<circle cx="388.86" cy="120.45" r="0.97"/>
<circle cx="388.57" cy="121.97" r="0.97"/>
<circle cx="389.34" cy="101.25" r="1.07"/>
<circle cx="388.84" cy="134.56" r="1.14"/>
<circle cx="389.11" cy="136.57" r="1.25"/>
<circle cx="387.49" cy="141.79" r="1.05"/>
<circle cx="389.18" cy="133.27" r="1.26"/>
<circle cx="389.35" cy="93.9" r="1.28"/>
<circle cx="389.09" cy="165.85" r="1.33"/>
<circle cx="388.34" cy="91.21" r="1.09"/>
<circle cx="387.68" cy="116.79" r="1.14"/>
<circle cx="388.85" cy="164.64" r="1.13"/>
<circle cx="388.56" cy="169.3" r="1.34"/>
<circle cx="389.24" cy="105.32" r="1.18"/>
<circle cx="389.19" cy="102.56" r="1.3"/>
<circle cx="389.41" cy="167.29" r="1.02"/>
<circle cx="387.53" cy="112.86" r="1.14"/>
<circle cx="389.02" cy="92.63" r="1.01"/>
<circle cx="387.78" cy="126.29" r="1.33"/>
<circle cx="387.76" cy="146.1" r="1.19"/>
<circle cx="388.94" cy="160.01" r="1.33"/>
<circle cx="387.37" cy="126.83" r="1.11"/>
<circle cx="387.07" cy="125.1" r="0.96"/>
<circle cx="388.28" cy="159.51" r="1.08"/>
<circle cx="387.61" cy="146.09" r="0.94"/>
<circle cx="388.8" cy="124.18" r="1.17"/>
<circle cx="388.33" cy="122.16" r="0.99"/>
<circle cx="388.03" cy="110.33" r="1.15"/>
<circle cx="387.91" cy="118.52" r="1.04"/>
<circle cx="387.7" cy="150.07" r="1.13"/>
<circle cx="388.25" cy="137.79" r="0.91"/>
<circle cx="388.95" cy="140.17" r="1.01"/>
<circle cx="387.93" cy="123.24" r="1.03"/>
<circle cx="388.7" cy="86.81" r="1.25"/>
<circle cx="387.69" cy="157.48" r="1.29"/>
<circle cx="386.89" cy="133.17" r="1.07"/>
<circle cx="388.56" cy="132.99" r="0.95"/>
<circle cx="389.39" cy="150.69" r="1.23"/>
<circle cx="388.27" cy="157.46" r="1.06"/>
<circle cx="388.34" cy="113.39" r="1.28"/>
<circle cx="388.43" cy="101.1" r="1.23"/>
<circle cx="388.78" cy="107.87" r="1.11"/>
<circle cx="388.75" cy="104.36" r="1.31"/>
<circle cx="389.47" cy="159.02" r="0.9"/>
<circle cx="388.43" cy="105.83" r="1.12"/>
<circle cx="389.09" cy="89.35" r="1.09"/>
<circle cx="389.11" cy="104.66" r="1.17"/>
<circle cx="387.93" cy="138.16" r="1.11"/>
<circle cx="387.67" cy="109.1" r="1.08"/>
<circle cx="387.67" cy="123.32" r="1.04"/>
<circle cx="389.07" cy="104.35" r="1.12"/>
<circle cx="387.19" cy="132.79" r="1.04"/>
<circle cx="388.8" cy="157.94" r="1.16"/>
<circle cx="389.71" cy="162.28" r="1.05"/>
<circle cx="389.18" cy="99.68" r="1.33"/>
<circle cx="388.28" cy="153.08" r="1.31"/>
<circle cx="388.46" cy="170.34" r="1.15"/>
<circle cx="389" cy="128.22" r="1.25"/>
<circle cx="389.19" cy="124.86" r="1.13"/>
<circle cx="388.41" cy="126.56" r="1.08"/>
<circle cx="388.3" cy="139.92" r="1.06"/>
<circle cx="389.22" cy="90.76" r="1.14"/>
<circle cx="388.59" cy="162.18" r="1.08"/>
<circle cx="388.14" cy="122.87" r="1.3"/>
<circle cx="388.94" cy="89.07" r="1.1"/>
<circle cx="389.21" cy="117.83" r="1.05"/>
<circle cx="388.74" cy="125.51" r="0.98"/>
<circle cx="389.28" cy="142.95" r="1.27"/>
<circle cx="386.97" cy="126.92" r="1.3"/>
<circle cx="388.84" cy="112.35" r="1.35"/>
<circle cx="388.47" cy="95.36" r="0.97"/>
<circle cx="388.23" cy="145.71" r="1.13"/>
<circle cx="387.81" cy="154.77" r="1.18"/>
<circle cx="387.62" cy="119.28" r="1.35"/>
<circle cx="386.9" cy="116.27" r="1.09"/>
<circle cx="387.87" cy="103.66" r="1.21"/>
<circle cx="388.96" cy="170.48" r="1.28"/>
<circle cx="388.38" cy="120.83" r="0.99"/>
<circle cx="388.08" cy="128.18" r="1.02"/>
<circle cx="388.1" cy="115.71" r="1.35"/>
<circle cx="387.74" cy="121.72" r="0.95"/>
<circle cx="389.15" cy="156.69" r="0.95"/>
<circle cx="388.18" cy="162.39" r="1.14"/>
<circle cx="388.64" cy="101.06" r="1.26"/>
<circle cx="388.08" cy="165.93" r="1.25"/>
<circle cx="388.65" cy="142.76" r="1.06"/>
<circle cx="388.06" cy="156.27" r="0.94"/>
<circle cx="388.86" cy="94.29" r="1.06"/>
<circle cx="387.69" cy="132.24" r="0.92"/>
<circle cx="388.81" cy="95.4" r="1.33"/>
<circle cx="388.28" cy="133.04" r="1.01"/>
<circle cx="389.91" cy="165.99" r="1.28"/>
<circle cx="389.09" cy="143.28" r="1.27"/>
<circle cx="388.41" cy="144.46" r="1.33"/>
<circle cx="389.08" cy="128.36" r="1.01"/>
<circle cx="388.56" cy="137.16" r="1"/>
<circle cx="389.05" cy="143.77" r="1.12"/>
<circle cx="387.75" cy="103.15" r="0.98"/>
<circle cx="387.32" cy="140.13" r="1.34"/>
<circle cx="388.35" cy="145.6" r="0.95"/>
<circle cx="387.66" cy="125.15" r="1.08"/>
<circle cx="388.27" cy="165.46" r="1.27"/>
<circle cx="387.47" cy="140.7" r="0.99"/>
<circle cx="387.61" cy="146.5" r="0.92"/>
<circle cx="387.67" cy="114.11" r="0.97"/>
<circle cx="387.16" cy="110.37" r="1.02"/>
<circle cx="387.65" cy="99.43" r="1.1"/>
<circle cx="389.09" cy="100.22" r="0.97"/>
<circle cx="388.62" cy="140.24" r="1.07"/>
<circle cx="388.38" cy="89.12" r="1.33"/>
<circle cx="387.27" cy="127.59" r="1.1"/>
<circle cx="389.13" cy="158.95" r="1.02"/>
<circle cx="388.85" cy="94.65" r="1.07"/>
<circle cx="388.56" cy="149.31" r="1"/>
<circle cx="387.8" cy="96.25" r="1.13"/>
<circle cx="387.38" cy="124.38" r="1.25"/>
<circle cx="388.42" cy="137.61" r="1.16"/>
<circle cx="387.9" cy="144.04" r="0.94"/>
</g>
<g fill="#fff"><circle cx="392.2" cy="163" r="0.9"/><circle cx="391.2" cy="167.6" r="0.9"/><circle cx="393.6" cy="162.4" r="0.7"/><circle cx="464.8" cy="170" r="0.8"/><circle cx="390.3" cy="155" r="0.6"/></g>
<circle cx="476.3" cy="84.8" r="2.5" fill="#1414d2"/>
<line x1="361" y1="128.5" x2="507.3" y2="128.5" stroke="#111" stroke-width="0.9" />
<polygon points="513.8,128.5 506.3,131.5 506.3,125.5" fill="#111" />
<line x1="433.5" y1="189" x2="433.5" y2="67.5" stroke="#111" stroke-width="0.9" />
<polygon points="433.5,61 436.5,68.5 430.5,68.5" fill="#111" />
<line x1="377.5" y1="58" x2="389.5" y2="86" stroke="#000" stroke-width="0.8" />
<line x1="493.7" y1="66.4" x2="477.8" y2="82.8" stroke="#000" stroke-width="0.8" />
<g font-family="'Liberation Serif', 'Times New Roman', serif" font-size="13" fill="#000" stroke="#000" stroke-width="0.18">
<text x="52" y="14.1" text-anchor="middle" >Samples of</text>
<text x="52" y="26.8" text-anchor="middle" >normal fitting</text>
<text x="68" y="147" text-anchor="middle" >Pyramid-like error</text>
<text x="68" y="159.6" text-anchor="middle" >distribution</text>
<text x="118.3" y="42" text-anchor="start" ><tspan font-style="italic">n</tspan><tspan font-size="8" dy="2.3">0</tspan></text>
<text transform="translate(171.2,37.4) skewX(-14)" font-style="italic">θ</text>
<text x="218.5" y="46.2" text-anchor="start" ><tspan font-style="italic">n</tspan><tspan font-size="8.5" dy="1.6">emax</tspan></text>
<text x="129.5" y="21" text-anchor="start" font-weight="bold" font-size="13">z</text>
<text x="168.5" y="161" text-anchor="start" font-weight="bold" font-size="14">y</text>
<text x="180.5" y="194" text-anchor="start" font-weight="bold" font-size="14">x</text>
<text x="3" y="211.5" text-anchor="start" >−0.004</text>
<text x="99.3" y="233" text-anchor="middle" >0</text>
<text x="149.5" y="255" text-anchor="start" >0.004</text>
<text x="183.3" y="246" text-anchor="start" >−0.004</text>
<text x="223.5" y="207" text-anchor="middle" >0</text>
<text x="249" y="180.7" text-anchor="start" >0.004</text>
<text x="258.9" y="164.6" text-anchor="start" >0</text>
<text x="262.4" y="66.5" text-anchor="start" >1.0</text>
<text transform="translate(93.2,244) rotate(18)" text-anchor="middle" font-style="italic" font-size="13.4">x (mm)</text>
<text transform="translate(240.5,208.5) rotate(-45)" text-anchor="middle" font-style="italic">y (mm)</text>
<text transform="translate(271,106) rotate(-90)" text-anchor="middle">z (mm)</text>
<text x="36" y="265" text-anchor="start" >(a)</text>
<text x="287.7" y="22.6" text-anchor="start" >0.004</text>
<text x="313" y="132.5" text-anchor="start" >0</text>
<text x="304" y="136.5" text-anchor="start" >y</text>
<text x="321" y="150" text-anchor="end" >(mm)</text>
<text x="281.8" y="238.8" text-anchor="start" >−0.004</text>
<text x="312.5" y="252" text-anchor="start" >−0.004</text>
<text x="433.8" y="252" text-anchor="middle" >0</text>
<text x="517.5" y="252" text-anchor="start" >0.004</text>
<text x="430" y="263" text-anchor="middle" >x (mm)</text>
<text x="347.5" y="265" text-anchor="start" >(b)</text>
<text x="381.4" y="40.8" text-anchor="middle" font-size="13.2">Boundary of normal</text>
<text x="381" y="53.8" text-anchor="middle" font-size="13.2">error distribution</text>
<text x="491" y="64.4" text-anchor="start" ><tspan font-style="italic">n</tspan><tspan font-size="8.5" dy="1.7">emax</tspan></text>
<text x="440.5" y="66" text-anchor="start" font-weight="bold" font-size="14">y</text>
<text x="511.5" y="122" text-anchor="start" font-weight="bold" font-size="14">x</text>
</g>
</svg>
</body></html>
